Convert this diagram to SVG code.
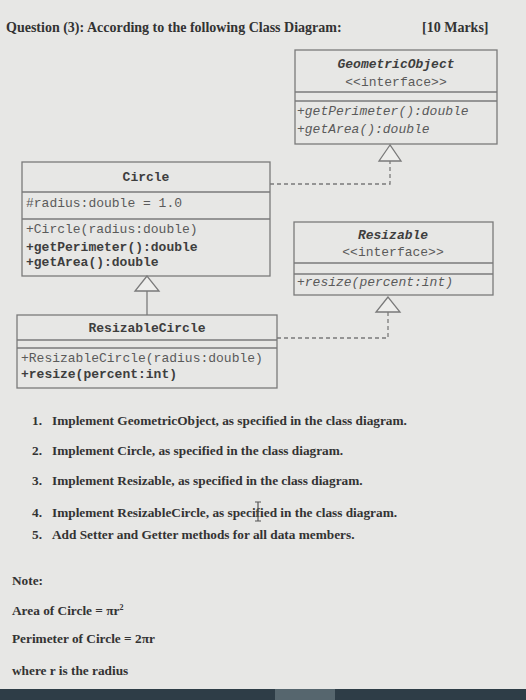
<svg xmlns="http://www.w3.org/2000/svg" width="526" height="700" viewBox="0 0 526 700">
<style>
.bg{fill:#e7e7e5}
.box{fill:none;stroke:#7a7a7a;stroke-width:1.3}
.sep{stroke:#7a7a7a;stroke-width:1.3}
.mono{font-family:"Liberation Mono","DejaVu Sans Mono",monospace;font-size:13px;fill:#5a5a5a}
.mb{font-weight:bold;fill:#3e3e3e}
.it{font-style:italic}
.ser{font-family:"Liberation Serif","Times New Roman",serif;font-weight:bold;fill:#333;font-size:13.3px}
.ttl{font-size:14px}
.dash{fill:none;stroke:#7a7a7a;stroke-width:1.3;stroke-dasharray:4,3}
.solid{fill:none;stroke:#7a7a7a;stroke-width:1.3}
.tri{fill:#eeeeec;stroke:#7a7a7a;stroke-width:1.3}
</style>
<rect class="bg" x="0" y="0" width="526" height="700"/>
<rect x="0" y="689" width="526" height="11" fill="#2e3d47"/>
<rect x="275" y="689" width="60" height="11" fill="#56666e"/>

<text class="ser ttl" x="6" y="32">Question (3): According to the following Class Diagram:</text>
<text class="ser ttl" x="422" y="32">[10 Marks]</text>

<g id="GeometricObject">
<rect class="box" x="295" y="50" width="202" height="94"/>
<line class="sep" x1="295" y1="92" x2="497" y2="92"/>
<line class="sep" x1="295" y1="101" x2="497" y2="101"/>
<text class="mono mb it" x="396" y="68" text-anchor="middle">GeometricObject</text>
<text class="mono" x="396" y="86" text-anchor="middle">&lt;&lt;interface&gt;&gt;</text>
<text class="mono it" x="297" y="115">+getPerimeter():double</text>
<text class="mono it" x="297" y="133">+getArea():double</text>
</g>

<g id="Circle">
<rect class="box" x="22" y="162" width="248" height="114"/>
<line class="sep" x1="22" y1="192" x2="270" y2="192"/>
<line class="sep" x1="22" y1="219" x2="270" y2="219"/>
<text class="mono mb" x="146" y="181" text-anchor="middle">Circle</text>
<text class="mono" x="26" y="207">#radius:double = 1.0</text>
<text class="mono" x="26" y="233">+Circle(radius:double)</text>
<text class="mono mb" x="26" y="251">+getPerimeter():double</text>
<text class="mono mb" x="26" y="266">+getArea():double</text>
</g>

<g id="Resizable">
<rect class="box" x="294" y="222" width="199" height="73"/>
<line class="sep" x1="294" y1="263" x2="493" y2="263"/>
<line class="sep" x1="294" y1="274" x2="493" y2="274"/>
<text class="mono mb it" x="393" y="239" text-anchor="middle">Resizable</text>
<text class="mono" x="393" y="256" text-anchor="middle">&lt;&lt;interface&gt;&gt;</text>
<text class="mono it" x="297" y="286">+resize(percent:int)</text>
</g>

<g id="ResizableCircle">
<rect class="box" x="17" y="315" width="260" height="73"/>
<line class="sep" x1="17" y1="340" x2="277" y2="340"/>
<line class="sep" x1="17" y1="348" x2="277" y2="348"/>
<text class="mono mb" x="147" y="332" text-anchor="middle">ResizableCircle</text>
<text class="mono" x="21" y="362">+ResizableCircle(radius:double)</text>
<text class="mono mb" x="21" y="378">+resize(percent:int)</text>
</g>

<g id="connectors">
<path class="dash" d="M270,184 H390 V161"/>
<polygon class="tri" points="390,145 379,161 401,161"/>
<path class="dash" d="M277,338 H388 V312"/>
<polygon class="tri" points="388,297 376,312 400,312"/>
<path class="solid" d="M147,291 V315"/>
<polygon class="tri" points="147,276 135,291 159,291"/>
</g>

<g id="tasks">
<text class="ser" x="32" y="425">1.</text><text class="ser" x="52" y="425">Implement GeometricObject, as specified in the class diagram.</text>
<text class="ser" x="32" y="455">2.</text><text class="ser" x="52" y="455">Implement Circle, as specified in the class diagram.</text>
<text class="ser" x="32" y="485">3.</text><text class="ser" x="52" y="485">Implement Resizable, as specified in the class diagram.</text>
<text class="ser" x="32" y="517">4.</text><text class="ser" x="52" y="517">Implement ResizableCircle, as specified in the class diagram.</text>
<text class="ser" x="32" y="539">5.</text><text class="ser" x="52" y="539">Add Setter and Getter methods for all data members.</text>
<path d="M255,502 h6 M258,502 V521 M255,521 h6" fill="none" stroke="#555" stroke-width="1.2"/>
</g>

<g id="notes">
<text class="ser" x="12" y="585">Note:</text>
<text class="ser" x="12" y="615">Area of Circle = πr<tspan dy="-5" style="font-size:8px">2</tspan></text>
<text class="ser" x="12" y="643">Perimeter of Circle = 2πr</text>
<text class="ser" x="12" y="675">where r is the radius</text>
</g>
</svg>
